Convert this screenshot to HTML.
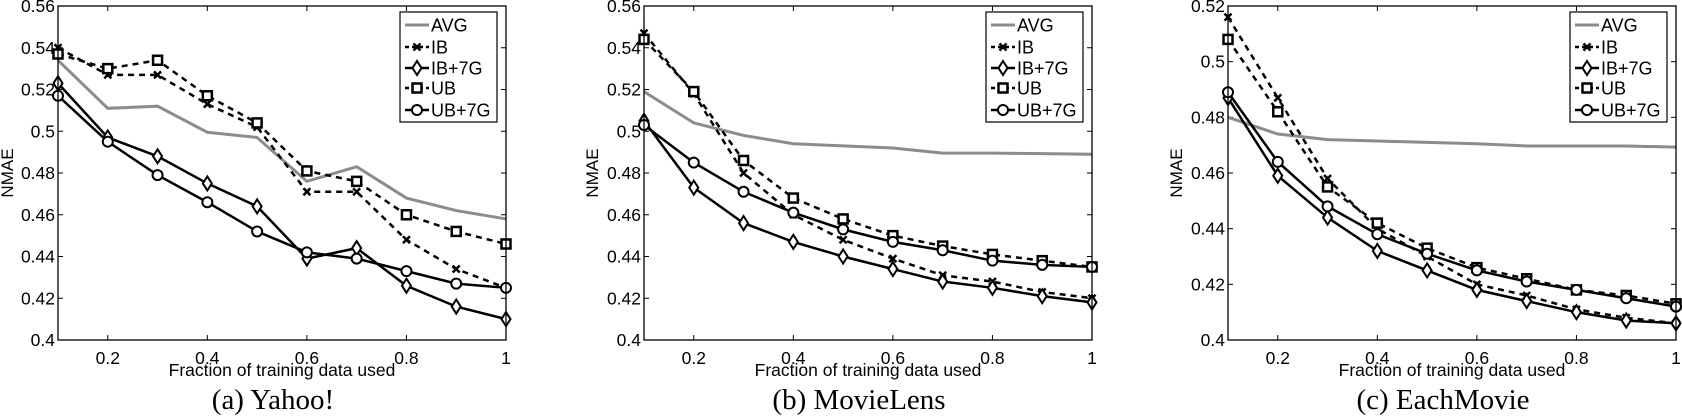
<!DOCTYPE html>
<html><head><meta charset="utf-8"><style>
html,body{margin:0;padding:0;background:#fff;}
svg{display:block;}
text{font-family:"Liberation Sans",sans-serif;fill:#000;}
.cap{font-family:"Liberation Serif",serif;font-size:29px;}
</style></head><body>
<svg id="fig" width="1682" height="417" viewBox="0 0 1682 417" xmlns="http://www.w3.org/2000/svg"></svg>
<script>
const xValues = [0.1,0.2,0.3,0.4,0.5,0.6,0.7,0.8,0.9,1.0];
const xTicks = [0.2,0.4,0.6,0.8,1];
const seriesNames = ["AVG","IB","IB+7G","UB","UB+7G"];
const yahooAVG = [0.534,0.511,0.512,0.4995,0.497,0.476,0.483,0.468,0.462,0.458];
const yahooIB = [0.540,0.527,0.527,0.513,0.502,0.471,0.471,0.448,0.434,0.425];
const yahooIB7G = [0.523,0.497,0.488,0.475,0.464,0.439,0.444,0.426,0.416,0.410];
const yahooUB = [0.537,0.530,0.534,0.517,0.504,0.481,0.476,0.460,0.452,0.446];
const yahooUB7G = [0.517,0.495,0.479,0.466,0.452,0.442,0.439,0.433,0.427,0.425];
const mlAVG = [0.519,0.504,0.498,0.494,0.493,0.492,0.4895,0.4895,0.4893,0.489];
const mlIB = [0.547,0.518,0.480,0.460,0.448,0.439,0.431,0.428,0.423,0.420];
const mlIB7G = [0.505,0.473,0.456,0.447,0.440,0.434,0.428,0.425,0.421,0.418];
const mlUB = [0.544,0.519,0.486,0.468,0.458,0.450,0.445,0.441,0.438,0.435];
const mlUB7G = [0.503,0.485,0.471,0.461,0.453,0.447,0.443,0.438,0.436,0.435];
const emAVG = [0.480,0.474,0.472,0.4715,0.471,0.4705,0.4697,0.4697,0.4697,0.4693];
const emIB = [0.516,0.487,0.458,0.440,0.430,0.420,0.416,0.411,0.408,0.406];
const emIB7G = [0.487,0.459,0.444,0.432,0.425,0.418,0.414,0.410,0.407,0.406];
const emUB = [0.508,0.482,0.455,0.442,0.433,0.426,0.422,0.418,0.416,0.413];
const emUB7G = [0.489,0.464,0.448,0.438,0.431,0.425,0.421,0.418,0.415,0.412];
const yTicksA = [0.4,0.42,0.44,0.46,0.48,0.5,0.52,0.54,0.56];
const yTicksC = [0.4,0.42,0.44,0.46,0.48,0.5,0.52];

const NS="http://www.w3.org/2000/svg";
const svg=document.getElementById('fig');
function mk(tag,attrs,parent){const e=document.createElementNS(NS,tag);for(const k in attrs)e.setAttribute(k,attrs[k]);(parent||svg).appendChild(e);return e;}

const styles=[
 {stroke:"#8c8c8c",dash:null,marker:null},
 {stroke:"#000",dash:"6,5",marker:"x"},
 {stroke:"#000",dash:null,marker:"d"},
 {stroke:"#000",dash:"6,5",marker:"s"},
 {stroke:"#000",dash:null,marker:"o"}
];
function marker(g,type,x,y){
  let m;
  if(type==="x"){m=mk('path',{d:`M${x-3.5},${y-3.5}L${x+3.5},${y+3.5}M${x-3.5},${y+3.5}L${x+3.5},${y-3.5}`,stroke:"#000","stroke-width":2.5,fill:"none"},g);}
  else if(type==="d"){m=mk('path',{d:`M${x},${y-7}L${x+4.5},${y}L${x},${y+7}L${x-4.5},${y}Z`,stroke:"#000","stroke-width":2,fill:"#fff"},g);}
  else if(type==="s"){m=mk('rect',{x:x-4.5,y:y-4.5,width:9,height:9,stroke:"#000","stroke-width":2.5,fill:"#fff"},g);}
  else if(type==="o"){m=mk('circle',{cx:x,cy:y,r:5,stroke:"#000","stroke-width":2,fill:"#fff"},g);}
  if(m){}
}
function chart(cfg){
  const g=mk('g',{});
  
  
  const L=cfg.left,R=cfg.left+448,T=6,B=340;
  const xs=v=>L+(v-0.1)/0.9*(R-L);
  const ys=v=>B-(v-cfg.ymin)/(cfg.ymax-cfg.ymin)*(B-T);
  cfg.yTicks.forEach(t=>{
    const y=ys(t);
    mk('line',{x1:L,y1:y,x2:L+5,y2:y,stroke:"#000","stroke-width":1},g);
    mk('line',{x1:R,y1:y,x2:R-5,y2:y,stroke:"#000","stroke-width":1},g);
    const tx=mk('text',{x:L-3,y:y+6,"text-anchor":"end","font-size":17.5},g);
    tx.textContent=String(+t.toFixed(2));
    
    
  });
  xTicks.forEach(t=>{
    const x=xs(t);
    mk('line',{x1:x,y1:B,x2:x,y2:B-5,stroke:"#000","stroke-width":1},g);
    mk('line',{x1:x,y1:T,x2:x,y2:T+5,stroke:"#000","stroke-width":1},g);
    const tx=mk('text',{x:x,y:B+24,"text-anchor":"middle","font-size":17.5},g);
    tx.textContent=String(t);
    
    
  });
  cfg.series.forEach((arr,i)=>{
    const st=styles[i];
    const pts=arr.map((v,j)=>xs(xValues[j])+","+ys(v)).join(" ");
    const pl=mk('polyline',{points:pts,fill:"none",stroke:st.stroke,"stroke-width":i===0?3:2.5},g);
    if(st.dash)pl.setAttribute('stroke-dasharray',st.dash);
    
    
    if(st.marker)arr.forEach((v,j)=>marker(g,st.marker,xs(xValues[j]),ys(v)));
  });
  const frame=mk('rect',{x:L,y:T,width:R-L,height:B-T,fill:"none",stroke:"#000","stroke-width":1.3},g);
  
  
  const lg=mk('g',{},g);
  
  
  const lx=cfg.legend,ly=12;
  mk('rect',{x:lx,y:ly,width:97,height:110,fill:"#fff",stroke:"#000","stroke-width":1.2},lg);
  const rows=[25,47,68,88,110];
  seriesNames.forEach((n,i)=>{
    const st=styles[i],y=rows[i];
    const ln=mk('line',{x1:lx+5,y1:y,x2:lx+29,y2:y,stroke:st.stroke,"stroke-width":i===0?3:2.5},lg);
    if(st.dash)ln.setAttribute('stroke-dasharray',"4,3");
    if(st.marker)marker(lg,st.marker,lx+17,y);
    const t=mk('text',{x:lx+31,y:y+6.5,"font-size":18},lg);
    t.textContent=n;
    
    
  });
  const yl=mk('text',{x:0,y:0,"font-size":17,"text-anchor":"middle",transform:`translate(${cfg.ylab},173) rotate(-90)`},g);
  yl.textContent="NMAE";
  
  
  const xl=mk('text',{x:(L+R)/2,y:376,"font-size":17.5,"text-anchor":"middle"},g);
  xl.textContent="Fraction of training data used";
  
  
  const cp=mk('text',{x:(L+R)/2-9,y:409,"text-anchor":"middle",class:"cap"},g);
  cp.textContent=cfg.caption;
  
  
}
chart({name:"chart-yahoo",left:58,ymin:0.4,ymax:0.56,yTicks:yTicksA,legend:400,ylab:13,caption:"(a) Yahoo!",series:[yahooAVG,yahooIB,yahooIB7G,yahooUB,yahooUB7G]});
chart({name:"chart-movielens",left:644,ymin:0.4,ymax:0.56,yTicks:yTicksA,legend:986,ylab:598,caption:"(b) MovieLens",series:[mlAVG,mlIB,mlIB7G,mlUB,mlUB7G]});
chart({name:"chart-eachmovie",left:1228,ymin:0.4,ymax:0.52,yTicks:yTicksC,legend:1570,ylab:1182,caption:"(c) EachMovie",series:[emAVG,emIB,emIB7G,emUB,emUB7G]});
</script>
</body></html>
